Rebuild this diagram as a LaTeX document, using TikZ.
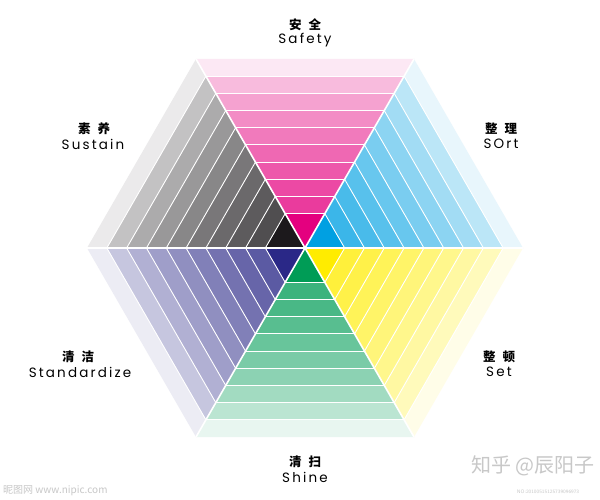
\documentclass[tikz,border=0pt]{standalone}
\usepackage{fontspec}
\setmainfont{Poppins}
\newfontfamily\latn[LetterSpace=16]{Poppins}
\newfontfamily\cjk{Noto Sans CJK SC}
\usetikzlibrary{calc}
\definecolor{cpink}{RGB}{228,0,127}
\definecolor{ccyan}{RGB}{0,160,226}
\definecolor{cyel}{RGB}{255,236,0}
\definecolor{cgreen}{RGB}{0,156,86}
\definecolor{cpurp}{RGB}{42,40,135}
\definecolor{cgray}{RGB}{28,25,28}
\definecolor{wmgray}{RGB}{200,200,200}
\tikzset{
  cjklab/.style={inner sep=0pt, font=\cjk\bfseries\fontsize{12.5}{13}\selectfont},
  enlab/.style={inner sep=0pt, font=\latn\fontsize{13.5}{15}\selectfont},
  sep/.style={white, line width=0.9pt},
  spoke/.style={white, line width=1.6pt},
  wm/.style={inner sep=0pt, text=wmgray}
}
\begin{document}
\begin{tikzpicture}[x=1pt,y=-1pt]
\useasboundingbox (0,0) rectangle (600,500);
\fill[white] (0,0) rectangle (600,500);
\coordinate (C) at (305,248);
\coordinate (V1) at (196,59);
\coordinate (V2) at (414,59);
\coordinate (V3) at (523,248);
\coordinate (V4) at (414,437);
\coordinate (V5) at (196,437);
\coordinate (V6) at (87,248);
\foreach \va/\vb/\col in {V1/V2/cpink, V2/V3/ccyan, V3/V4/cyel, V4/V5/cgreen, V5/V6/cpurp, V6/V1/cgray}{
  \fill[\col] (C) -- ($(C)!0.181818!(\va)$) -- ($(C)!0.181818!(\vb)$) -- cycle;
  \foreach \i in {2,...,10}{
    \pgfmathsetmacro\pc{9+68*((10-\i)/8)^0.65}
    \pgfmathsetmacro\ta{\i/11}
    \pgfmathsetmacro\tb{(\i+1)/11}
    \fill[\col!\pc!white] ($(C)!\ta!(\va)$) -- ($(C)!\tb!(\va)$) -- ($(C)!\tb!(\vb)$) -- ($(C)!\ta!(\vb)$) -- cycle;
    \draw[sep] ($(C)!\ta!(\va)$) -- ($(C)!\ta!(\vb)$);
  }
}
\foreach \v in {V1,V2,V3,V4,V5,V6}{
  \draw[spoke] (C) -- (\v);
}
% labels
\node[cjklab] (safc) at (305,25) {安\hspace{7pt}全};
\node[enlab] (safe) at (305,40) {Safety};
\node[cjklab] (susc) at (94,129) {素\hspace{7pt}养};
\node[enlab] (suse) at (93,144) {Sustain};
\node[cjklab] (sorc) at (501,129) {整\hspace{7pt}理};
\node[enlab] (sore) at (501,144) {SOrt};
\node[cjklab] (stac) at (78,357) {清\hspace{7pt}洁};
\node[enlab] (stae) at (80,372) {Standardize};
\node[cjklab] (setc) at (499,357) {整\hspace{7pt}顿};
\node[enlab] (sete) at (499,372) {Set};
\node[cjklab] (shic) at (305,462) {清\hspace{7pt}扫};
\node[enlab] (shie) at (305,477) {Shine};
% watermarks
\node[wm, font=\cjk\fontsize{20}{22}\selectfont] (zhihu) at (533,466) {知乎 @辰阳子};
\node[wm, font=\cjk\fontsize{10}{11}\selectfont, anchor=west] (nipic) at (3,491) {昵图网 www.nipic.com};
\node[wm, font=\sffamily\fontsize{5}{6}\selectfont] (num) at (548,492) {NO:20100515125739096973};
\end{tikzpicture}
\end{document}
